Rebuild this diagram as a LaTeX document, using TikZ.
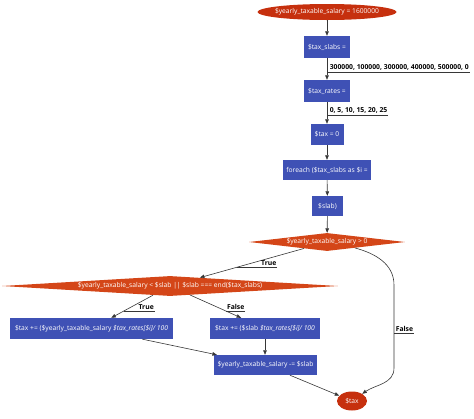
\documentclass[tikz,border=0pt]{standalone}
\usepackage{fontspec}
\setmainfont{Open Sans}
\usepackage{tikz}
\usetikzlibrary{arrows.meta,calc,positioning,shapes.geometric}
\definecolor{StepBlue}{RGB}{63,81,181}
\definecolor{TermRed}{RGB}{198,48,14}
\definecolor{TestOrange}{RGB}{212,70,24}
\definecolor{FlowGray}{RGB}{55,55,55}

\begin{document}
\begin{tikzpicture}[x=1pt,y=-1pt,
    every node/.style={font=\fontsize{6.7}{7}\selectfont},
    stepbox/.style={rectangle,fill=StepBlue,text=white,inner sep=0pt},
    term/.style={ellipse,fill=TermRed,text=white,inner sep=0pt},
    test/.style={diamond,fill=TestOrange,text=white,inner sep=0pt,aspect=1},
    flow/.style={draw=FlowGray,line width=0.6pt,-{Triangle[length=4.5pt,width=3.6pt]}},
    elabel/.style={font=\fontsize{6.8}{7}\selectfont\bfseries,inner xsep=0.6pt,inner ysep=1.2pt,anchor=south west},
    uline/.style={draw=FlowGray,line width=0.5pt}]
  \useasboundingbox (0,0) rectangle (474,418);
  \node[term,minimum width=139pt,minimum height=16pt] (start) at (327,12) {\makebox[0pt]{\$yearly\_taxable\_salary = 1600000}};
  \node[stepbox,minimum width=46pt,minimum height=22pt] (slabs) at (327,47) {\$tax\_slabs =};
  \node[stepbox,minimum width=46pt,minimum height=22pt] (rates) at (327,91) {\$tax\_rates =};
  \node[stepbox,minimum width=33pt,minimum height=21pt] (taxzero) at (327,134.5) {\$tax = 0};
  \node[stepbox,minimum width=88pt,minimum height=20pt] (loop) at (327,170) {foreach (\$tax\_slabs as \$i =};
  \node[stepbox,minimum width=31pt,minimum height=20pt] (slab) at (327.5,206) {\$slab)};
  \node[test,minimum width=156pt,minimum height=18pt] (pos) at (327,242) {\makebox[0pt]{\$yearly\_taxable\_salary > 0}};
  \node[test,minimum width=336pt,minimum height=20pt] (cmp) at (170,286) {\makebox[0pt]{\$yearly\_taxable\_salary < \$slab || \$slab === end(\$tax\_slabs)}};
  \node[stepbox,minimum width=163pt,minimum height=21pt] (addall) at (91.5,328.5) {\$tax += (\$yearly\_taxable\_salary \textit{\$tax\_rates[\$i]/ 100}};
  \node[stepbox,minimum width=110pt,minimum height=21pt] (addslab) at (265,328.5) {\$tax += (\$slab \textit{\$tax\_rates[\$i]/ 100}};
  \node[stepbox,minimum width=103pt,minimum height=20pt] (reduce) at (265.5,365) {\$yearly\_taxable\_salary -= \$slab};
  \node[term,minimum width=30pt,minimum height=19pt] (result) at (352,401) {\makebox[0pt]{\$tax}};
  \coordinate (falsebend) at (394,285);
  \coordinate (falsedrop) at (394,368);

  \draw[flow] (start) -- (slabs);
  \draw[flow] (slabs) -- coordinate[pos=0.64] (slabsfork) (rates);
  \node[elabel,xshift=2pt] (slabslbl) at (slabsfork) {300000, 100000, 300000, 400000, 500000, 0};
  \draw[uline] (slabslbl.south east) -- (slabsfork);
  \draw[flow] (rates) -- coordinate[pos=0.59] (ratesfork) (taxzero);
  \node[elabel,xshift=2pt] (rateslbl) at (ratesfork) {0, 5, 10, 15, 20, 25};
  \draw[uline] (rateslbl.south east) -- (ratesfork);
  \draw[flow] (taxzero) -- (loop);
  \draw[flow] (loop) -- (slab);
  \draw[flow] (slab) -- (pos);
  \draw[flow] (pos) -- coordinate[pos=0.64] (posfork) (cmp);
  \node[elabel,xshift=23pt] (poslbl) at (posfork) {True};
  \draw[uline] (poslbl.south east) -- (posfork);
  \draw[flow] (cmp) -- coordinate[pos=0.7] (allfork) (addall);
  \node[elabel,xshift=14pt] (alllbl) at (allfork) {True};
  \draw[uline] (alllbl.south east) -- (allfork);
  \draw[flow] (cmp) -- coordinate[pos=0.7] (slabfork) (addslab);
  \node[elabel,xshift=0.5pt] (slablbl) at (slabfork) {False};
  \draw[uline] (slablbl.south east) -- (slabfork);
  \draw[flow] (addall) -- (reduce);
  \draw[flow] (addslab) -- (addslab |- reduce.north);
  \draw[flow] (reduce) -- (result);
  \draw[flow] (pos.-12) to[out=-15,in=90] (falsebend) -- coordinate[pos=0.58] (negfork) (falsedrop) to[out=-90,in=35] (result);
  \node[elabel,xshift=1pt] (neglbl) at (negfork) {False};
  \draw[uline] (neglbl.south east) -- (negfork);
\end{tikzpicture}
\end{document}
